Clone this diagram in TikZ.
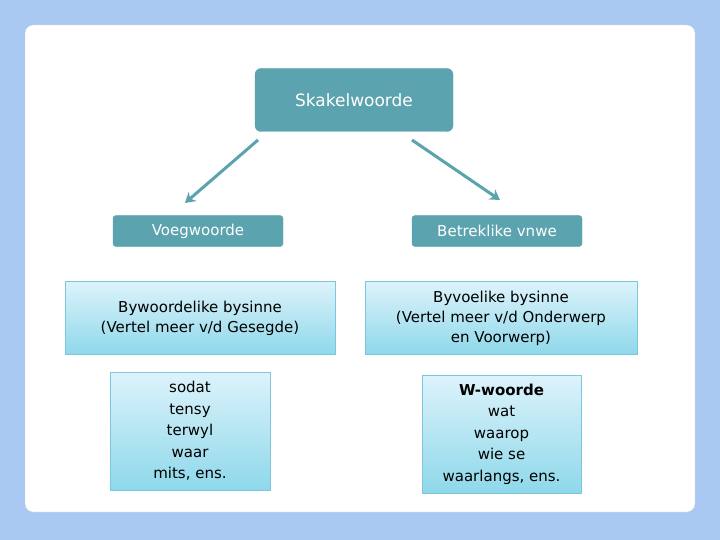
\documentclass[tikz,border=0pt]{standalone}
\usepackage{fontspec}
\usetikzlibrary{arrows.meta}
\setmainfont{DejaVu Sans}
\begin{document}
\begin{tikzpicture}[x=1pt,y=-1pt,
  teal/.style={fill=teal0,draw=teal0,rounded corners=3pt,text=white,inner sep=0pt},
  lbox/.style={draw=bord,top color=ltop,bottom color=lbot,inner sep=0pt,align=center},
  arr/.style={draw=teal0,line width=3pt,-{Stealth[length=10pt,width=12pt]}},
  every node/.style={font=\fontsize{15}{20}\selectfont}]
\definecolor{teal0}{HTML}{5BA3AE}
\definecolor{ltop}{HTML}{DDF3FB}
\definecolor{lbot}{HTML}{8ED8EA}
\definecolor{bord}{HTML}{7CC6DE}
\definecolor{bg}{HTML}{A9C8F2}
\fill[bg] (0,0) rectangle (720,540);
\useasboundingbox (0,0) rectangle (720,540);
\fill[white,draw=gray!40,rounded corners=8pt] (25,25) rectangle (695,512);
\node[teal,minimum width=198pt,minimum height=63pt,rounded corners=6pt,font=\fontsize{17}{20}\selectfont] (top) at (354,100) {Skakelwoorde};
\node[teal,minimum width=170pt,minimum height=31pt] (v) at (198,231) {Voegwoorde};
\node[teal,minimum width=170pt,minimum height=31pt] (b) at (497,231) {Betreklike vnwe};
\coordinate (a1s) at (258,140); \coordinate (a1e) at (185,203);
\coordinate (a2s) at (412,140); \coordinate (a2e) at (500,200);
\draw[arr] (a1s) -- (a1e);
\draw[arr] (a2s) -- (a2e);
\node[lbox,minimum width=270pt,minimum height=73pt] (l1) at (200,318) {Bywoordelike bysinne\\(Vertel meer v/d Gesegde)};
\node[lbox,minimum width=272pt,minimum height=73pt] (r1) at (501,318) {Byvoelike bysinne\\(Vertel meer v/d Onderwerp\\en Voorwerp)};
\node[lbox,minimum width=160pt,minimum height=118pt,font=\fontsize{15}{21.5}\selectfont] (l2) at (190,431) {sodat\\tensy\\terwyl\\waar\\mits, ens.};
\node[lbox,minimum width=159pt,minimum height=118pt,font=\fontsize{15}{21.5}\selectfont] (r2) at (501.5,434) {\textbf{W-woorde}\\wat\\waarop\\wie se\\waarlangs, ens.};
\end{tikzpicture}
\end{document}
